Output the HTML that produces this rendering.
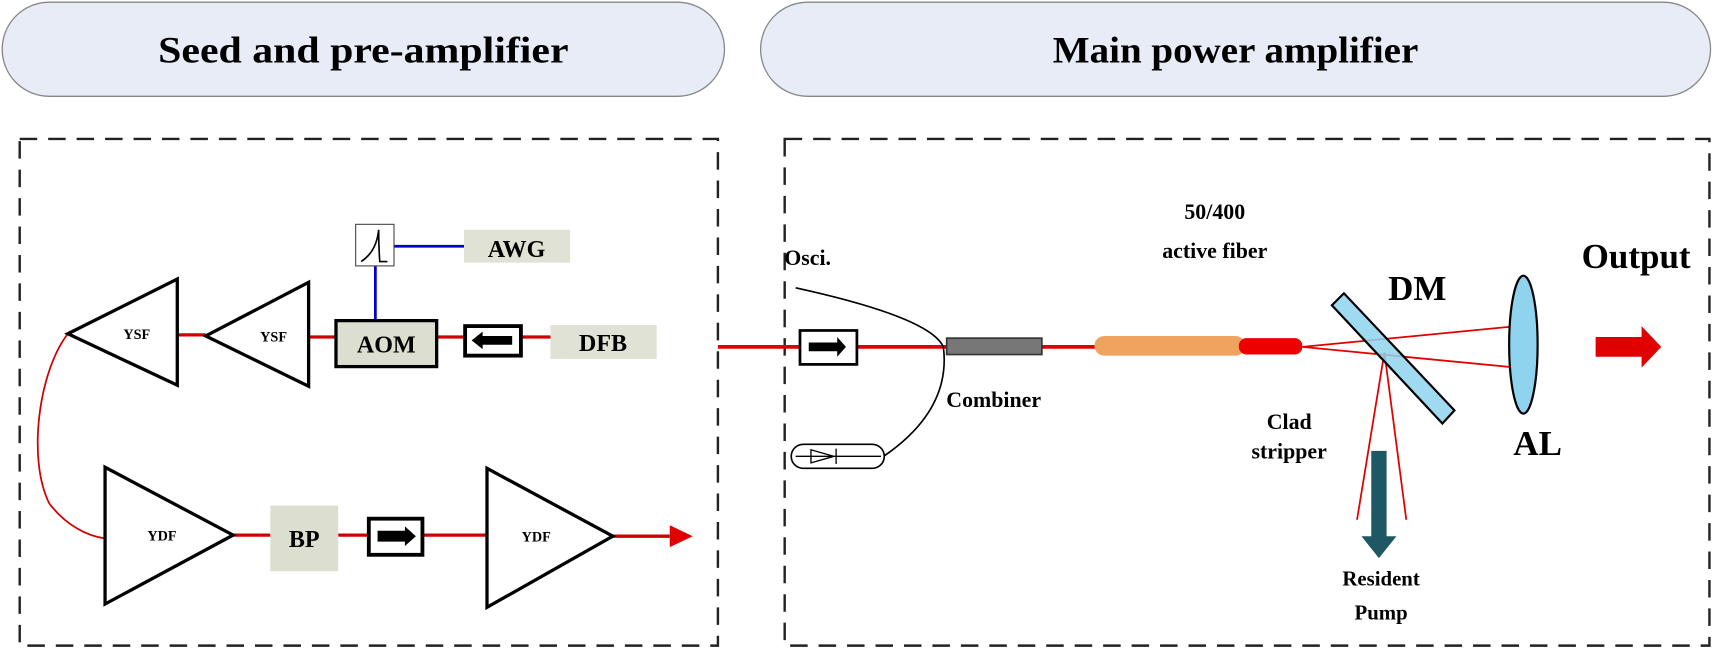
<!DOCTYPE html>
<html><head><meta charset="utf-8"><style>html,body{margin:0;padding:0;background:#fff}svg{display:block}text{font-family:"Liberation Serif",serif;font-weight:bold}</style></head><body>
<svg width="1716" height="650" viewBox="0 0 1568 594" preserveAspectRatio="none" xmlns="http://www.w3.org/2000/svg">
<rect x="2" y="2" width="660" height="86" rx="43" fill="#e7ecf7" stroke="#888" stroke-width="1.2"/>
<text x="332" y="57" font-size="34" text-anchor="middle" textLength="375" lengthAdjust="spacingAndGlyphs">Seed and pre-amplifier</text>
<rect x="695" y="2" width="868" height="86" rx="43" fill="#e7ecf7" stroke="#888" stroke-width="1.2"/>
<text x="1129" y="57" font-size="34" text-anchor="middle" textLength="334" lengthAdjust="spacingAndGlyphs">Main power amplifier</text>
<g fill="none" stroke="#222" stroke-width="2.2" stroke-dasharray="16,10">
<rect x="18" y="127" width="638" height="463"/>
<rect x="717" y="127" width="845" height="463"/>
</g>
<!-- left -->
<g stroke="#0000cc" stroke-width="2.5"><line x1="360" y1="225" x2="424" y2="225"/><line x1="343" y1="243" x2="343" y2="293"/></g>
<rect x="325" y="205" width="35" height="38" fill="#fff" stroke="#444" stroke-width="1"/>
<path d="M330 239 Q344 230 346 210 Q346 225 347 239 L354 239" fill="none" stroke="#000" stroke-width="1.5"/>
<rect x="424" y="210" width="97" height="30" fill="#dfe2d4"/>
<text x="472" y="235" font-size="22" text-anchor="middle">AWG</text>
<g stroke="#d10000" stroke-width="3" fill="none">
<line x1="262" y1="308" x2="307" y2="308"/><line x1="399" y1="308" x2="424" y2="308"/><line x1="476" y1="308" x2="503" y2="308"/>
<line x1="162" y1="306" x2="188" y2="306"/>
<line x1="213" y1="489" x2="247" y2="489"/><line x1="309" y1="489" x2="336" y2="489"/><line x1="386" y1="489" x2="445" y2="489"/><line x1="560" y1="490" x2="612" y2="490"/>
</g>
<path d="M62 305 C35 340 25 420 45 460 C60 480 80 490 96 492" fill="none" stroke="#d10000" stroke-width="1.6"/>
<polygon points="612,480 633,490 612,500" fill="#e00000"/>
<rect x="307" y="293" width="92" height="42" fill="#dcdfd0" stroke="#000" stroke-width="3"/>
<text x="353" y="322" font-size="22" text-anchor="middle">AOM</text>
<rect x="425" y="298" width="51" height="27" fill="#fff" stroke="#000" stroke-width="3.5"/>
<polygon points="431,311 441,303 441,307 468,307 468,315 441,315 441,319" fill="#000"/>
<rect x="503" y="297" width="97" height="31" fill="#dfe2d4"/>
<text x="551" y="321" font-size="22" text-anchor="middle">DFB</text>
<polygon points="188,307 282,258 282,353" fill="#fff" stroke="#000" stroke-width="3"/>
<text x="250" y="312" font-size="13" text-anchor="middle">YSF</text>
<polygon points="62,305 162,255 162,352" fill="#fff" stroke="#000" stroke-width="3"/>
<text x="125" y="310" font-size="13" text-anchor="middle">YSF</text>
<polygon points="96,427 213,489 96,552" fill="#fff" stroke="#000" stroke-width="3"/>
<text x="148" y="494" font-size="13" text-anchor="middle">YDF</text>
<rect x="247" y="462" width="62" height="60" fill="#dcdfd0"/>
<text x="278" y="500" font-size="22" text-anchor="middle">BP</text>
<rect x="337" y="474" width="49" height="33" fill="#fff" stroke="#000" stroke-width="3.5"/>
<polygon points="345,485 370,485 370,481 380,490 370,499 370,495 345,495" fill="#000"/>
<polygon points="445,428 560,490 445,555" fill="#fff" stroke="#000" stroke-width="3"/>
<text x="490" y="495" font-size="13" text-anchor="middle">YDF</text>
<!-- right -->
<g stroke="#e00000" stroke-width="3.5"><line x1="656" y1="317" x2="865" y2="317"/><line x1="952" y1="317" x2="1002" y2="317"/></g>
<path d="M727 263 Q850 290 862 317 Q870 380 795 425" fill="none" stroke="#000" stroke-width="1.5"/>
<rect x="731" y="302" width="52" height="31" fill="#fff" stroke="#000" stroke-width="2.5"/>
<polygon points="739,313 765,313 765,308 773,317 765,326 765,321 739,321" fill="#000"/>
<rect x="723" y="406" width="85" height="22" rx="11" fill="#fff" stroke="#000" stroke-width="1.5"/>
<g stroke="#000" stroke-width="1.2" fill="none"><line x1="727" y1="417" x2="805" y2="417"/><polygon points="741,411 741,423 762,417"/><line x1="764" y1="410" x2="764" y2="424"/></g>
<rect x="865" y="309" width="87" height="15" fill="#777" stroke="#333" stroke-width="1.5"/>
<rect x="1000" y="307" width="138" height="18" rx="9" fill="#f0a35f"/>
<rect x="1132" y="309" width="58" height="15" rx="7" fill="#ee0000"/>
<text x="738" y="242" font-size="20" text-anchor="middle">Osci.</text>
<text x="908" y="372" font-size="20" text-anchor="middle">Combiner</text>
<text x="1110" y="200" font-size="20" text-anchor="middle">50/400</text>
<text x="1110" y="236" font-size="20" text-anchor="middle">active fiber</text>
<text x="1178" y="392" font-size="20" text-anchor="middle">Clad</text>
<text x="1178" y="419" font-size="20" text-anchor="middle">stripper</text>
<g stroke="#e00000" stroke-width="1.6" fill="none">
<line x1="1190" y1="317" x2="1386" y2="298"/><line x1="1190" y1="317" x2="1386" y2="336"/>
<line x1="1265" y1="322" x2="1240" y2="475"/><line x1="1265" y1="322" x2="1285" y2="475"/>
</g>
<polygon points="1217,279 1228,268 1329,375 1318,387" fill="#8fd3ee" fill-opacity="0.85" stroke="#000" stroke-width="2"/>
<text x="1295" y="274" font-size="32" text-anchor="middle">DM</text>
<ellipse cx="1392" cy="315" rx="13" ry="63" fill="#8fd3ee" stroke="#000" stroke-width="2"/>
<text x="1495" y="245" font-size="32" text-anchor="middle">Output</text>
<text x="1405" y="416" font-size="32" text-anchor="middle">AL</text>
<polygon points="1458,308 1500,308 1500,298 1518,317 1500,336 1500,326 1458,326" fill="#e00000"/>
<polygon points="1253,412 1267,412 1267,490 1276,490 1260,510 1244,490 1253,490" fill="#1e5864"/>
<text x="1262" y="535" font-size="19" text-anchor="middle">Resident</text>
<text x="1262" y="566" font-size="19" text-anchor="middle">Pump</text>
</svg>
</body></html>
